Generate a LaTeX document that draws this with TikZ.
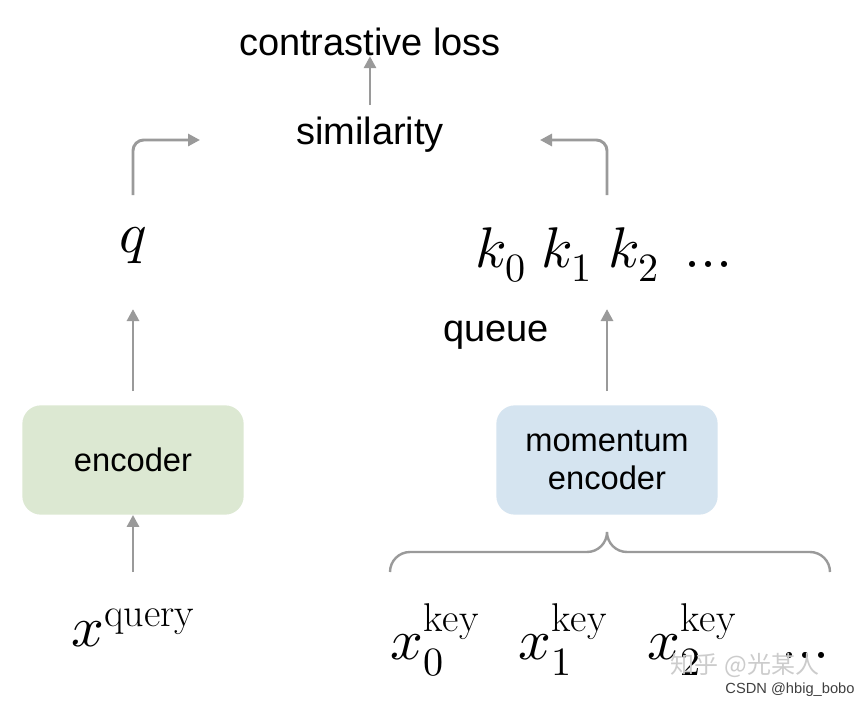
\documentclass[tikz,border=0pt]{standalone}
\usepackage{fontspec}
\usepackage{unicode-math}
\setmathfont{Latin Modern Math}
\setsansfont{Liberation Sans}
\newfontfamily\cjk{Noto Sans CJK SC}
\usetikzlibrary{arrows.meta}
\definecolor{arr}{HTML}{9A9A9A}
\definecolor{encg}{HTML}{DCE8D2}
\definecolor{encb}{HTML}{D5E4F0}
\tikzset{
 ar/.style={draw=arr,line width=2.2pt,-{Triangle[length=9pt,width=9pt]},rounded corners=8pt},
 lbl/.style={font=\sffamily\fontsize{28.5}{32}\selectfont,inner sep=0},
 mth/.style={font=\fontsize{43}{47}\selectfont,inner sep=0},
 box/.style={rounded corners=14pt,minimum width=166pt,minimum height=82pt,font=\sffamily\fontsize{24.5}{29}\selectfont,align=center}
}
\begin{document}
\begin{tikzpicture}[x=0.75pt,y=-0.75pt]
\useasboundingbox[fill=white] (0,0) rectangle (865,707);
\node[lbl] (loss) at (370,42) {contrastive loss};
\node[lbl] (sim) at (370,135) {similarity};
\node[mth] (q) at (133,245) {$q$};
\node[mth] (k) at (604,255) {$k_0\;k_1\;k_2\;\ldots$};
\node[lbl] (queue) at (496,335) {queue};
\node[box,fill=encg] (enc) at (133,460) {encoder};
\node[box,fill=encb] (menc) at (607,460) {momentum\\encoder};
\node[mth] (xq) at (133,628) {$x^{\mathrm{query}}$};
\node[mth] (x0) at (435,640) {$x_0^{\mathrm{key}}$};
\node[mth] (x1) at (563,640) {$x_1^{\mathrm{key}}$};
\node[mth] (x2) at (692,640) {$x_2^{\mathrm{key}}$};
\node[mth] (xd) at (805,655) {$\ldots$};
\coordinate (lt) at (200,140);
\coordinate (rt) at (540,140);
\draw[ar] (370,105) -- (loss.south);
\draw[ar] (133,195) -- (133,140) -- (lt);
\draw[ar] (607,195) -- (607,140) -- (rt);
\draw[ar] (enc.north) ++(0,-14) -- ++(0,-82);
\draw[ar] (menc.north) ++(0,-14) -- ++(0,-82);
\draw[ar] (133,572) -- (enc.south);
\draw[arr,line width=1.8pt] (390,572) to[out=90,in=180] (410,552) -- (587,552) to[out=0,in=-90] (607,532) to[out=-90,in=180] (627,552) -- (810,552) to[out=0,in=90] (830,572);
\node[font=\cjk\fontsize{18}{20}\selectfont,text=black!20] (zh) at (745,665) {知乎 @光某人};
\node[font=\sffamily\fontsize{11}{13}\selectfont,text=black!75] (csdn) at (790,690) {CSDN @hbig\_bobo};
\end{tikzpicture}
\end{document}
